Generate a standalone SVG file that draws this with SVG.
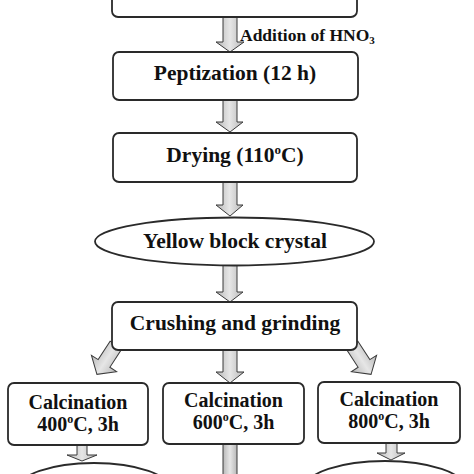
<svg xmlns="http://www.w3.org/2000/svg" width="474" height="474" viewBox="0 0 474 474">
<defs>
<linearGradient id="ag" x1="0" y1="0" x2="1" y2="0">
<stop offset="0" stop-color="#b8b8b8"/>
<stop offset="0.5" stop-color="#e6e6e6"/>
<stop offset="1" stop-color="#b8b8b8"/>
</linearGradient>
<style>
.box{fill:#fff;stroke:#2a2a2a;stroke-width:1.8}
.arr{fill:url(#ag);stroke:#3a3a3a;stroke-width:1}
.t{font-family:"Liberation Serif","Times New Roman",serif;font-weight:bold;fill:#111;text-anchor:middle}
.l{font-size:21.5px}
.c{font-size:20px}
.a{font-family:"Liberation Serif","Times New Roman",serif;font-weight:bold;fill:#111;font-size:17.5px}
</style>
</defs>
<rect width="474" height="474" fill="#fff"/>
<g id="connectors">
<path class="arr" d="M223,17 L237,17 L237,42 L244,42 L230,52 L216,42 L223,42 Z"/>
<path class="arr" d="M223,100 L237,100 L237,122 L243,122 L230,132 L216,122 L223,122 Z"/>
<path class="arr" d="M223,182 L237,182 L237,205 L243,205 L230,216 L216,205 L223,205 Z"/>
<path class="arr" d="M223,265 L237,265 L237,292 L243,292 L230,302 L216,292 L223,292 Z"/>
<path class="arr" d="M223,350 L237,350 L237,372 L244,372 L230,383 L216,372 L223,372 Z"/>
<path class="arr" transform="translate(116,345) rotate(33)" d="M-7,0 L7,0 L7,22 L15,22 L0,35 L-15,22 L-7,22 Z"/>
<path class="arr" transform="translate(352,345) rotate(-33)" d="M-7,0 L7,0 L7,22 L15,22 L0,35 L-15,22 L-7,22 Z"/>
<path class="arr" d="M77,445 L87,445 L87,455 L97,455 L82,461 L67,455 L77,455 Z"/>
<path class="arr" d="M386,443 L397,443 L397,453 L405,453 L391,460 L377,453 L386,453 Z"/>
<path class="arr" d="M223,444 L237,444 L237,480 L223,480 Z"/>
</g>
<g id="top">
<rect class="box" x="112" y="-20" width="245" height="37" rx="6"/>
</g>
<text class="a" x="240" y="41">Addition of HNO<tspan font-size="11" dy="3">3</tspan></text>
<g id="peptization">
<rect class="box" x="113" y="52" width="245" height="48" rx="6"/>
<text class="t l" x="235" y="80">Peptization (12 h)</text>
</g>
<g id="drying">
<rect class="box" x="113" y="133" width="244" height="49" rx="6"/>
<text class="t l" x="235" y="162">Drying (110<tspan font-size="13" dy="-8">o</tspan><tspan dy="8">C)</tspan></text>
</g>
<g id="yellow">
<ellipse class="box" cx="234.5" cy="241.5" rx="139.5" ry="24"/>
<text class="t l" x="235" y="248">Yellow block crystal</text>
</g>
<g id="crushing">
<rect class="box" x="112" y="302" width="245" height="48" rx="6"/>
<text class="t l" x="235" y="330">Crushing and grinding</text>
</g>
<g id="calc400">
<rect class="box" x="8" y="383" width="140" height="62" rx="6"/>
<text class="t c" x="78" y="409">Calcination</text>
<text class="t c" x="78" y="431">400<tspan font-size="12" dy="-8">o</tspan><tspan dy="8">C, 3h</tspan></text>
</g>
<g id="calc600">
<rect class="box" x="163" y="383" width="141" height="61" rx="6"/>
<text class="t c" x="233.5" y="407">Calcination</text>
<text class="t c" x="233.5" y="429">600<tspan font-size="12" dy="-8">o</tspan><tspan dy="8">C, 3h</tspan></text>
</g>
<g id="calc800">
<rect class="box" x="318" y="382" width="142" height="61" rx="6"/>
<text class="t c" x="389" y="406">Calcination</text>
<text class="t c" x="389" y="428">800<tspan font-size="12" dy="-8">o</tspan><tspan dy="8">C, 3h</tspan></text>
</g>
<g id="out400">
<ellipse class="box" cx="94" cy="490" rx="77" ry="27"/>
</g>
<g id="out800">
<ellipse class="box" cx="385" cy="488" rx="80" ry="27"/>
</g>
</svg>
